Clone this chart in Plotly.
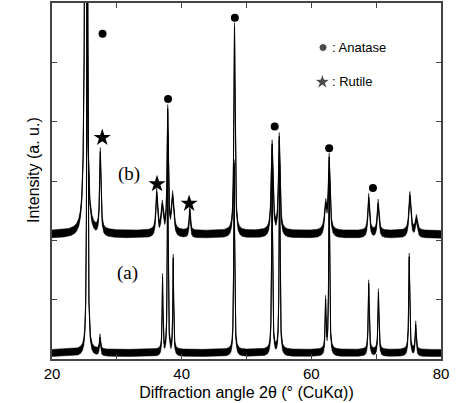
import numpy as np
import plotly.graph_objects as go

# ---- data ----
# sample (a): peak positions (deg 2theta), heights (a.u. above baseline), half-widths
a_pos = [25.45, 27.4, 37.05, 37.85, 38.7, 48.1, 53.95, 55.1, 62.2, 62.75, 68.85, 70.35, 75.1, 76.1]
a_height = [12.0, 0.25, 1.25, 3.7, 1.58, 3.2, 3.2, 3.2, 0.85, 3.0, 1.17, 1.02, 1.62, 0.47]
a_hwhm = [0.07, 0.1, 0.07, 0.07, 0.07, 0.08, 0.08, 0.08, 0.08, 0.08, 0.09, 0.09, 0.09, 0.09]
a_base = 0.1
a_noise = 0.06

# sample (b)
b_pos = [25.2, 27.45, 36.15, 37.0, 37.85, 38.6, 41.25, 48.15, 53.95, 55.05, 62.2, 62.75, 68.85, 70.3, 75.2, 76.2]
b_height = [12.0, 1.35, 0.68, 0.45, 2.05, 0.62, 0.42, 3.5, 1.5, 1.62, 0.45, 1.25, 0.62, 0.52, 0.65, 0.25]
b_hwhm = [0.14, 0.12, 0.15, 0.2, 0.11, 0.2, 0.11, 0.11, 0.16, 0.14, 0.2, 0.15, 0.15, 0.15, 0.18, 0.18]
b_base = 2.1
b_noise = 0.065

# phase markers (positions in chart units)
anatase_x = [27.8, 37.9, 48.2, 54.35, 62.75, 69.5]
anatase_y = [5.48, 4.38, 5.75, 3.92, 3.55, 2.88]
rutile_x = [27.75, 36.2, 41.15]
rutile_y = [3.73, 2.95, 2.62]

x_ticks = [20, 30, 40, 50, 60, 70, 80]
x_ticktext = ["20", "", "40", "", "60", "", "80"]

two_theta = np.arange(20.0, 80.0001, 0.01)


def profile(pos, height, hwhm, base):
    y = np.full_like(two_theta, base)
    for p, h, w in zip(pos, height, hwhm):
        y = y + h / (1.0 + ((two_theta - p) / w) ** 2)
    return y


fig = go.Figure()

for pos, hh, ww, base, nz in [(a_pos, a_height, a_hwhm, a_base, a_noise),
                              (b_pos, b_height, b_hwhm, b_base, b_noise)]:
    yy = profile(pos, hh, ww, base)
    fig.add_trace(go.Scatter(x=two_theta, y=yy - nz, mode="lines",
                             line=dict(color="black", width=0.5), showlegend=False,
                             hoverinfo="skip"))
    fig.add_trace(go.Scatter(x=two_theta, y=yy + nz, mode="lines", fill="tonexty",
                             fillcolor="black",
                             line=dict(color="black", width=0.5), showlegend=False,
                             hoverinfo="skip"))
    fig.add_trace(go.Scatter(x=two_theta, y=yy, mode="lines",
                             line=dict(color="black", width=1.0), showlegend=False))

fig.add_trace(go.Scatter(x=anatase_x, y=anatase_y, mode="markers",
                         marker=dict(symbol="circle", size=8, color="black"),
                         showlegend=False))
fig.add_trace(go.Scatter(x=rutile_x, y=rutile_y, mode="markers",
                         marker=dict(symbol="star", size=13, color="black"),
                         showlegend=False))
# key markers
fig.add_trace(go.Scatter(x=[61.8, 61.7], y=[5.25, 4.67], mode="markers",
                         marker=dict(symbol=["circle", "star"], size=[8, 12], color="black"),
                         showlegend=False))

ann = [
    dict(x=62.9, y=5.25, text=": Anatase", xanchor="left", yanchor="middle",
         showarrow=False, font=dict(family="Liberation Sans", size=13, color="black")),
    dict(x=62.9, y=4.67, text=": Rutile", xanchor="left", yanchor="middle",
         showarrow=False, font=dict(family="Liberation Sans", size=13, color="black")),
    dict(x=31.8, y=3.12, text="(b)", xanchor="center", yanchor="middle",
         showarrow=False, font=dict(family="Liberation Serif", size=19, color="black")),
    dict(x=31.7, y=1.45, text="(a)", xanchor="center", yanchor="middle",
         showarrow=False, font=dict(family="Liberation Serif", size=19, color="black")),
    dict(x=-0.047, xref="paper", y=0.53, yref="paper", text="Intensity (a. u.)",
         textangle=-90, xanchor="center", yanchor="middle", showarrow=False,
         font=dict(family="Liberation Sans", size=16, color="black")),
]

fig.update_layout(
    width=474, height=403,
    margin=dict(l=52, r=33, t=1, b=44),
    paper_bgcolor="white", plot_bgcolor="white",
    annotations=ann,
    xaxis=dict(range=[20, 80], tickvals=x_ticks, ticktext=x_ticktext,
               ticks="inside", ticklen=5, tickcolor="#444", showline=True,
               linecolor="#444", linewidth=1.5, mirror="ticks", showgrid=False,
               zeroline=False, tickfont=dict(family="Liberation Sans", size=15, color="black"),
               title=dict(text="Diffraction angle 2θ (° (CuKα))", standoff=6,
                          font=dict(family="Liberation Sans", size=16, color="black"))),
    yaxis=dict(range=[0, 6], tickvals=[1, 2, 3, 4, 5], showticklabels=False,
               ticks="inside", ticklen=5, tickcolor="#444", showline=True,
               linecolor="#444", linewidth=1.5, mirror="ticks", showgrid=False,
               zeroline=False),
)

fig.write_html("out.html")
